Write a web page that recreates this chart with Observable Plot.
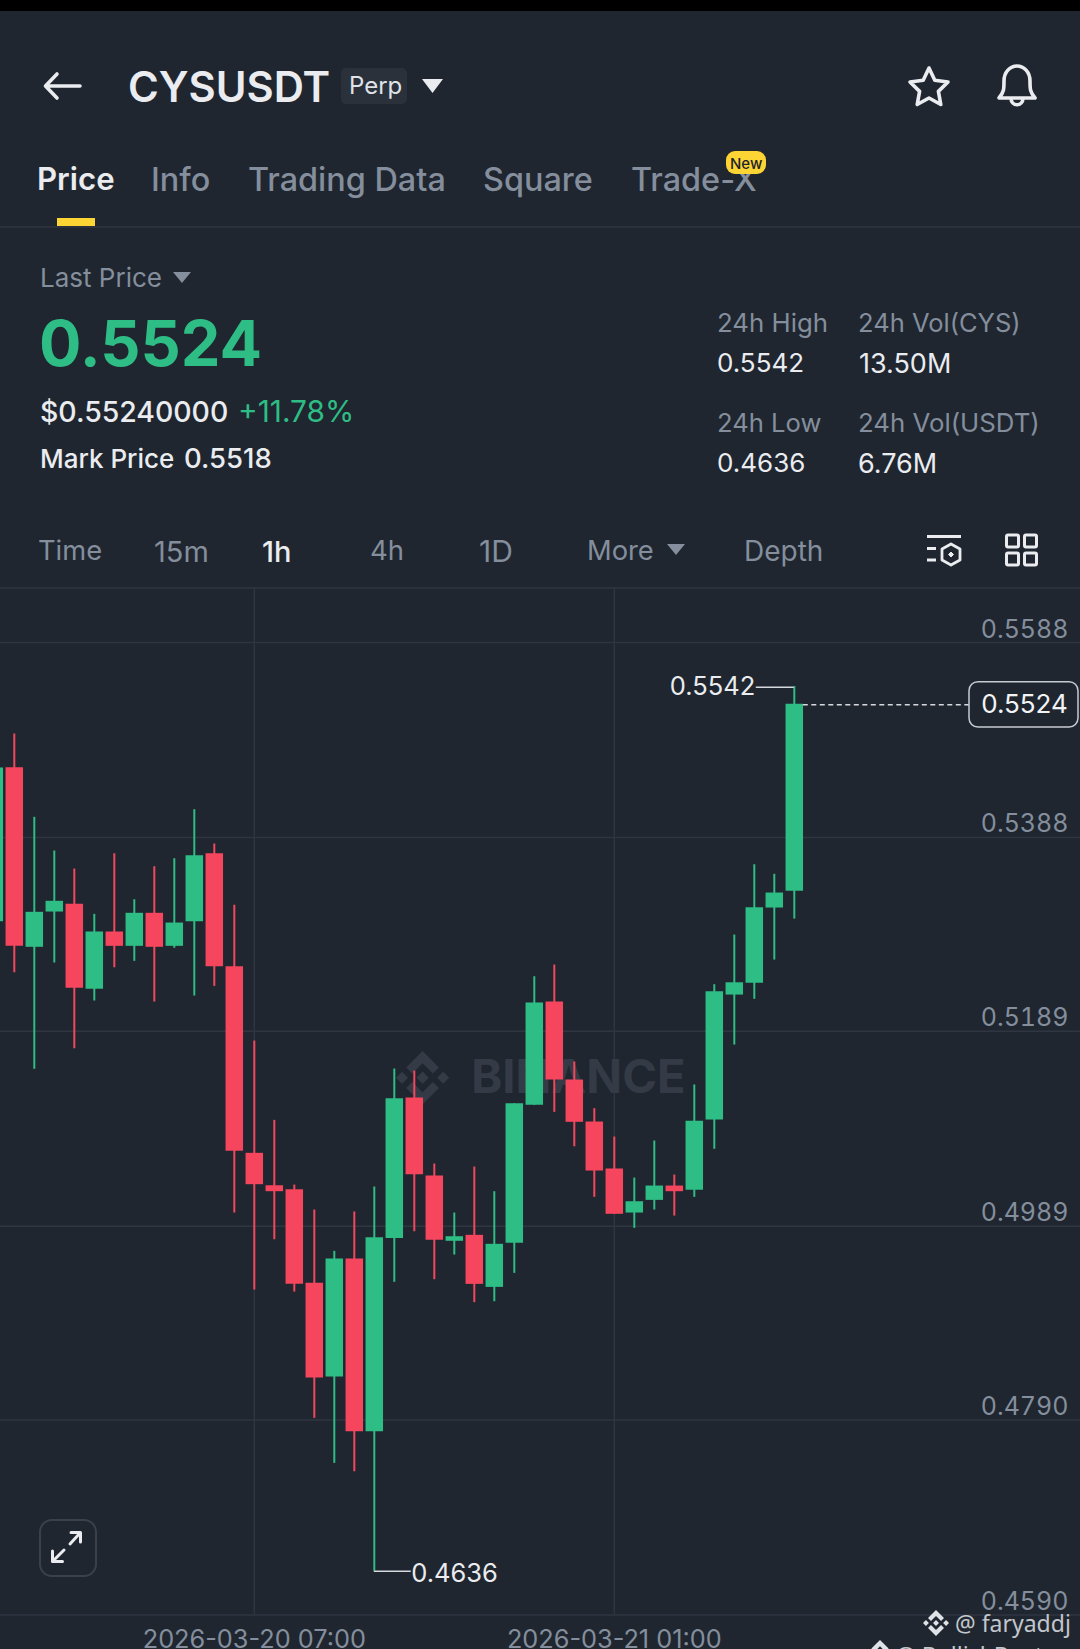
<!DOCTYPE html>
<html>
<head>
<meta charset="utf-8">
<script src="https://cdn.jsdelivr.net/npm/d3@7"></script>
<script src="https://cdn.jsdelivr.net/npm/@observablehq/plot@0.6"></script>
<style>
html,body{margin:0;padding:0;background:#1f2630;width:1080px;height:1649px;overflow:hidden}
body{position:relative;font-family:Inter,"Noto Sans",sans-serif}
#chart{position:absolute;left:0;top:588px;width:1080px;height:1061px}
#chart svg{display:block;background:transparent}
.t{position:absolute;white-space:nowrap;transform:translateY(-50%);line-height:1}
.g{color:#848e9c}.w{color:#eaecef}.up{color:#2ebd85}
.i{position:absolute;fill:none;stroke:#eaecef}
.bar{position:absolute;left:0;width:1080px;height:2px;background:#2b313b}
</style>
</head>
<body>
<div style="position:absolute;left:0;top:0;width:1080px;height:11px;background:#000"></div>

<svg class="i" style="left:42px;top:70px" width="42" height="32" viewBox="0 0 42 32" stroke-width="3.6" stroke-linecap="round" stroke-linejoin="round"><path d="M38 16H4M15 4 3.500 16 15 28"/></svg>
<span class="t w" style="left:128px;top:88px;font-size:41.800px;font-weight:600">CYSUSDT</span>
<div style="position:absolute;left:341px;top:68px;width:66px;height:36px;background:#2b313b;border-radius:5px"></div>
<span class="t" style="left:349px;top:86px;font-size:24px;color:#dfe2e7">Perp</span>
<svg style="position:absolute;left:421px;top:78px" width="23" height="16"><path d="M1 1H22L11.500 15Z" fill="#eaecef"/></svg>
<svg class="i" style="left:906px;top:64px" width="46" height="44" viewBox="0 0 46 44" stroke-width="3.600" stroke-linejoin="round"><path d="M23 4 28.800 16.300 42 18 32.400 27.400 34.800 40.500 23 34 11.200 40.500 13.600 27.400 4 18 17.200 16.300Z"/></svg>
<svg class="i" style="left:994px;top:62px" width="46" height="48" viewBox="0 0 46 48" stroke-width="3.600" stroke-linejoin="round"><path d="M5 36C10 30 10 27 10 19 10 10 16 4 23 4S36 10 36 19C36 27 36 30 41 36ZM17 36C17 45 29 45 29 36"/></svg>

<span class="t w" style="left:37px;top:180px;font-size:31.200px;font-weight:600">Price</span>
<span class="t g" style="left:151px;top:180px;font-size:32.400px;font-weight:500">Info</span>
<span class="t g" style="left:248px;top:180px;font-size:32.400px;font-weight:500">Trading Data</span>
<span class="t g" style="left:483px;top:180px;font-size:32.400px;font-weight:500">Square</span>
<span class="t g" style="left:631px;top:180px;font-size:32.400px;font-weight:500">Trade-X</span>
<div style="position:absolute;left:726px;top:151px;width:40px;height:23px;background:#fcd535;border-radius:9px"></div>
<span class="t" style="left:730px;top:163px;font-size:15px;font-weight:500;color:#1e2329">New</span>
<div style="position:absolute;left:57px;top:218px;width:38px;height:8px;background:#fcd535"></div>
<div class="bar" style="top:226px"></div>

<span class="t g" style="left:40px;top:278px;font-size:26px">Last Price</span>
<svg style="position:absolute;left:172px;top:271px" width="20" height="13"><path d="M1 1H19L10 12Z" fill="#848e9c"/></svg>
<span class="t up" style="left:39px;top:343px;font-size:63px;font-weight:700">0.5524</span>
<span class="t w" style="left:40px;top:412px;font-size:28.400px;font-weight:500">$0.55240000</span>
<span class="t up" style="left:238px;top:412px;font-size:29.800px">+11.78%</span>
<span class="t w" style="left:40px;top:459px;font-size:26px;font-weight:500">Mark Price</span>
<span class="t w" style="left:184px;top:459px;font-size:27.500px;font-weight:500">0.5518</span>
<span class="t g" style="left:717px;top:323px;font-size:25.800px">24h High</span>
<span class="t g" style="left:858px;top:323px;font-size:25.500px">24h Vol(CYS)</span>
<span class="t w" style="left:717px;top:363px;font-size:26px">0.5542</span>
<span class="t w" style="left:859px;top:363px;font-size:27px">13.50M</span>
<span class="t g" style="left:717px;top:423px;font-size:25.600px">24h Low</span>
<span class="t g" style="left:858px;top:423px;font-size:25.800px">24h Vol(USDT)</span>
<span class="t w" style="left:717px;top:463px;font-size:26px">0.4636</span>
<span class="t w" style="left:858px;top:463px;font-size:27px">6.76M</span>

<span class="t g" style="left:38px;top:551px;font-size:27.300px">Time</span>
<span class="t g" style="left:154px;top:551px;font-size:29px">15m</span>
<span class="t w" style="left:262px;top:551px;font-size:29px;font-weight:500">1h</span>
<span class="t g" style="left:370px;top:551px;font-size:27.500px">4h</span>
<span class="t g" style="left:479px;top:551px;font-size:30px">1D</span>
<span class="t g" style="left:587px;top:551px;font-size:27.300px">More</span>
<svg style="position:absolute;left:666px;top:543px" width="20" height="13"><path d="M1 1H19L10 12Z" fill="#848e9c"/></svg>
<span class="t g" style="left:744px;top:551px;font-size:28px">Depth</span>
<svg class="i" style="left:925px;top:533px" width="38" height="36" viewBox="0 0 38 36" stroke-width="2.800" stroke-linejoin="round"><path d="M2 3.500H36M2 15.500H11M2 27H11"/><path d="M26 11 35 16V27L26 32 17 27V16Z"/><path d="M26 19 28.500 21.500 26 24 23.500 21.500Z" fill="#eaecef" stroke-width="1"/></svg>
<svg class="i" style="left:1004px;top:532px" width="36" height="36" viewBox="0 0 36 36" stroke-width="3"><rect x="2.500" y="3" width="12" height="12" rx="1.500"/><rect x="20.500" y="3" width="12" height="12" rx="1.500"/><rect x="2.500" y="21" width="12" height="12" rx="1.500"/><rect x="20.500" y="21" width="12" height="12" rx="1.500"/></svg>
<div class="bar" style="top:587px"></div>

<div id="chart"></div>

<div style="position:absolute;left:39px;top:1519px;width:54px;height:54px;border:2px solid #3a414c;border-radius:13px"></div>
<svg class="i" style="left:47px;top:1527px" width="40" height="40" viewBox="0 0 40 40" stroke-width="3" stroke-linecap="round" stroke-linejoin="round"><path d="M23 17 33 6M24 5.500H33.500V15M17 23 6 34M5.500 24V34.500H15.500"/></svg>

<svg style="position:absolute;left:923px;top:1610px" width="26" height="26" viewBox="0 0 126.610 126.610" fill="#dfe2e7"><path d="M38.730 53.200l24.590-24.580 24.600 24.600 14.300-14.310L63.320 0 24.420 38.900zM0 63.310l14.300-14.310 14.310 14.310-14.310 14.300zM38.730 73.410l24.590 24.590 24.600-24.600 14.310 14.290-38.900 38.910-38.910-38.880zM98 63.310l14.300-14.310 14.310 14.300-14.310 14.320zM77.830 63.300L63.320 48.780 52.590 59.510l-1.240 1.230-2.540 2.540 14.510 14.500 14.510-14.470z"/></svg>
<span class="t" style="left:955px;top:1623px;font-size:23px;color:#c3c7cd;font-family:'Noto Sans',sans-serif">@ faryaddj</span>
<svg style="position:absolute;left:866px;top:1640px" width="28" height="28" viewBox="0 0 126.610 126.610" fill="#dfe2e7"><path d="M38.730 53.200l24.590-24.580 24.600 24.600 14.300-14.310L63.320 0 24.420 38.900zM0 63.310l14.300-14.310 14.310 14.310-14.310 14.300zM38.730 73.410l24.590 24.590 24.600-24.600 14.310 14.290-38.900 38.910-38.910-38.880zM98 63.310l14.300-14.310 14.310 14.300-14.310 14.320zM77.830 63.300L63.320 48.780 52.590 59.510l-1.240 1.230-2.540 2.540 14.510 14.500 14.510-14.470z"/></svg>
<span class="t" style="left:895px;top:1655px;font-size:23px;color:#c3c7cd;font-family:'Noto Sans',sans-serif">@ BullishBeat</span>

<script>
// Hourly candles, first one at firstHour
const firstHour = "2026-03-19T18:00:00Z";
const opens  = [.53014,.54595,.52752,.53114,.53193,.52321,.52909,.52762,.53101,.52762,.53014,.53712,.52553,.50638,.50305,.50264,.49304,.48342,.49553,.47781,.49765,.51205,.50405,.49735,.49796,.49262,.49714,.51130,.52190,.51390,.50959,.50477,.50025,.50155,.50302,.50258,.50980,.52262,.52382,.53155,.53326];
const closes = [.54592,.52762,.53111,.53224,.52331,.52909,.52762,.53101,.52752,.53001,.53692,.52553,.50658,.50316,.50244,.49293,.48332,.49553,.47781,.49772,.51198,.50418,.49745,.49782,.49293,.49704,.51147,.52180,.51390,.50956,.50456,.50012,.50141,.50302,.50244,.50966,.52296,.52388,.53158,.53309,.55246];
const highs  = [.54592,.54941,.54086,.53740,.53555,.53090,.53712,.53240,.53579,.53661,.54164,.53812,.53183,.51790,.50976,.50312,.50056,.49632,.50036,.50292,.51503,.51482,.50528,.50025,.50497,.50244,.51147,.52450,.52570,.51575,.51096,.50805,.50384,.50764,.50415,.51339,.52368,.52878,.53599,.53501,.55426];
const lows   = [.53014,.52491,.51500,.52591,.51711,.52201,.52542,.52608,.52190,.52742,.52252,.52351,.50025,.49235,.49751,.49214,.47918,.47456,.47370,.46350,.49314,.49833,.49341,.49594,.49105,.49115,.49406,.51130,.51058,.50705,.50186,.50012,.49868,.50056,.49994,.50186,.50679,.51749,.52218,.52621,.53042];
const priceTicks = [0.5588, 0.5388, 0.5189, 0.4989, 0.4790, 0.4590];
const timeTicks = ["2026-03-20T07:00:00Z", "2026-03-21T01:00:00Z"];
const timeLabels = ["2026-03-20 07:00", "2026-03-21 01:00"];
const dayHigh = 0.5542, dayLow = 0.4636, lastPrice = 0.5524;

const GREEN = "#2ebd85", RED = "#f6465d", GRID = "#2f3641", WATERMARK = "#343b47";
const t0 = new Date(firstHour);
const hour = h => new Date(+t0 + h * 3600e3);
const candles = opens.map((o, i) => ({
  t: hour(i), open: o, close: closes[i], high: highs[i], low: lows[i],
  color: closes[i] >= o ? GREEN : RED
}));
const last = candles[candles.length - 1];
const lowCandle = candles[d3.leastIndex(lows)];
const logoPath = "M38.730 53.200l24.590-24.580 24.600 24.600 14.300-14.310L63.320 0 24.420 38.900zM0 63.310l14.300-14.310 14.310 14.310-14.310 14.300zM38.730 73.410l24.590 24.590 24.600-24.600 14.310 14.290-38.900 38.910-38.910-38.880zM98 63.310l14.300-14.310 14.310 14.300-14.310 14.320zM77.830 63.300L63.320 48.780 52.590 59.510l-1.240 1.230-2.540 2.540 14.510 14.500 14.510-14.470z";
const watermarkPrice = 0.5141;

const plot = Plot.plot({
  width: 1080, height: 1061,
  marginTop: 0, marginBottom: 0, marginLeft: 0, marginRight: 0,
  style: {background: "transparent", fontFamily: "Inter, 'Noto Sans', sans-serif"},
  x: {type: "utc", domain: [hour(0.31), hour(54.31)], range: [0, 1080], axis: null},
  y: {domain: [0.4590, 0.5588], range: [1026.5, 54], axis: null},
  marks: [
    Plot.ruleY(priceTicks, {stroke: GRID, strokeWidth: 1.5}),
    Plot.ruleX(timeTicks.map(d => new Date(d)), {y1: 0.4590, y2: 0.5588 + 0.0056, stroke: GRID, strokeWidth: 1.5}),
    // watermark
    (i, s, v, d) => {
      const g = d3.create("svg:g").attr("transform", `translate(396,${s.y(watermarkPrice)}) scale(0.42)`);
      g.append("path").attr("d", logoPath).attr("fill", WATERMARK).attr("transform", "translate(0,-63)");
      return g.node();
    },
    Plot.text(["BINANCE"], {x: hour(29.2), y: watermarkPrice, fill: WATERMARK, fontSize: 47, fontWeight: 700, text: d => d, style: "letter-spacing:7px"}),
    // candles
    Plot.ruleX(candles, {x: "t", y1: "low", y2: "high", stroke: "color", strokeWidth: 2}),
    Plot.ruleX(candles, {x: "t", y1: "open", y2: "close", stroke: "color", strokeWidth: 17.5}),
    // price axis
    Plot.axisY(priceTicks, {anchor: "right", tickSize: 0, tickPadding: 0, dx: -12, dy: -13, textAnchor: "end", fill: "#848e9c", fontSize: 25, tickFormat: d => d.toFixed(4), label: null}),
    // time axis
    Plot.text(timeTicks, {x: d => new Date(d), y: 0.4590, dy: 25, text: (d, i) => timeLabels[i], fill: "#848e9c", fontSize: 25.3, style: "font-variant-numeric:tabular-nums"}),
    // extremes
    Plot.ruleY([dayHigh], {x1: hour(38.1), x2: last.t, stroke: "#d5d8dc", strokeWidth: 1.5}),
    Plot.ruleX([last.t], {y1: last.high, y2: dayHigh, stroke: GREEN, strokeWidth: 2}),
    Plot.text([dayHigh], {x: hour(38.1), y: dayHigh, dx: -1, text: d => d.toFixed(4), textAnchor: "end", fill: "#eaecef", fontSize: 25.5}),
    Plot.ruleY([lowCandle.low], {x1: lowCandle.t, x2: hour(20.85), stroke: "#d5d8dc", strokeWidth: 1.5}),
    Plot.text([lowCandle.low], {x: hour(20.85), y: lowCandle.low, dx: 0, dy: 3, text: () => dayLow.toFixed(4), textAnchor: "start", fill: "#eaecef", fontSize: 25.5}),
    // last price
    Plot.ruleY([lastPrice], {x1: last.t, x2: hour(48.3), dx: 9, stroke: "#d5d8dc", strokeWidth: 1.5, strokeDasharray: "5 3.5"}),
    Plot.rect([lastPrice], {x1: hour(48.76), x2: hour(54.21), y1: d => d - 0.00233, y2: d => d + 0.00233, fill: "#1f2630", stroke: "#c8ccd2", strokeWidth: 1.5, rx: 9}),
    Plot.text([lastPrice], {x: hour(51.51), y: lastPrice, text: d => d.toFixed(4), fill: "#f2f3f5", fontSize: 26})
  ]
});
document.getElementById("chart").appendChild(plot);
</script>
</body>
</html>
